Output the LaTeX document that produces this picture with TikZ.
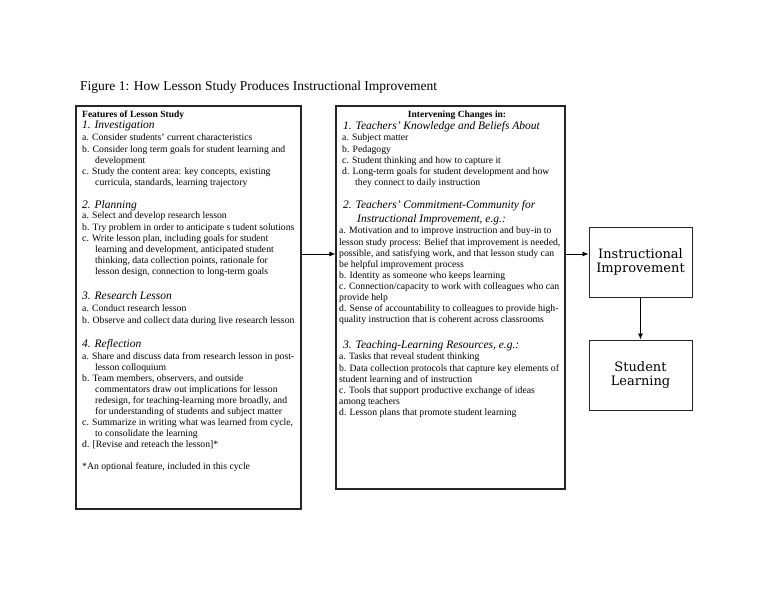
\documentclass[tikz,border=0pt]{standalone}
\usepackage{fontspec}
\setmainfont{Liberation Serif}
\newfontfamily\boxfont{DejaVu Serif}
\usetikzlibrary{arrows.meta}
\tikzset{
  box/.style={draw=black!85, line width=1.2pt, inner sep=0pt},
  sbox/.style={draw=black!85, line width=1pt, inner sep=0pt, align=center, font=\boxfont\fontsize{13}{13.5}\selectfont},
  txt/.style={anchor=north west, inner sep=0pt, align=left, font=\fontsize{9.7}{11.1}\selectfont},
  hd/.style={anchor=north west, inner sep=0pt, align=left, font=\fontsize{11.5}{14}\selectfont\itshape},
  bhd/.style={inner sep=0pt, font=\fontsize{9.5}{11}\selectfont\bfseries},
  arr/.style={draw=black, line width=0.8pt, -{Latex[length=6pt,width=5pt]}}
}
\newcommand{\ind}{\hspace*{13pt}}
\begin{document}
\begin{tikzpicture}[x=1pt,y=-1pt]
\useasboundingbox (0,0) rectangle (768,594);
% title
\node[anchor=base west, inner sep=0pt, font=\fontsize{13.5}{15}\selectfont] (title) at (80,90) {Figure 1: How Lesson Study Produces Instructional Improvement};
% boxes
\node[box, minimum width=225pt, minimum height=403pt] (features) at (188.5,307.5) {};
\node[box, minimum width=229pt, minimum height=383pt] (changes) at (450.5,297.5) {};
\node[sbox, minimum width=103pt, minimum height=70pt] (instr) at (640.5,262) {Instructional\\Improvement};
\node[sbox, minimum width=103pt, minimum height=70pt] (learn) at (640.5,375) {Student\\Learning};
% connectors
\coordinate (a1) at (0,254);
\draw[arr] (features.east |- a1) -- (changes.west |- a1);
\draw[arr] (changes.east |- a1) -- (instr.west |- a1);
\draw[arr] (instr.south) -- (learn.north);
% left box text
\node[bhd, anchor=base west] (fh) at (82,117) {Features of Lesson Study};
\node[hd] (lh1) at (82,121) {1. Investigation};
\node[txt] (l1) at (82,134) {a. Consider students' current characteristics\\
b. Consider long term goals for student learning and\\
\ind development\\
c. Study the content area: key concepts, existing\\
\ind curricula, standards, learning trajectory};
\node[hd] (lh2) at (82,200) {2. Planning};
\node[txt] (l2) at (82,212) {a. Select and develop research lesson\\
b. Try problem in order to anticipate s tudent solutions\\
c. Write lesson plan, including goals for student\\
\ind learning and development, anticipated student\\
\ind thinking, data collection points, rationale for\\
\ind lesson design, connection to long-term goals};
\node[hd] (lh3) at (82,291) {3. Research Lesson};
\node[txt] (l3) at (82,305) {a. Conduct research lesson\\
b. Observe and collect data during live research lesson};
\node[hd] (lh4) at (82,339) {4. Reflection};
\node[txt] (l4) at (82,352) {a. Share and discuss data from research lesson in post-\\
\ind lesson colloquium\\
b. Team members, observers, and outside\\
\ind commentators draw out implications for lesson\\
\ind redesign, for teaching-learning more broadly, and\\
\ind for understanding of students and subject matter\\
c. Summarize in writing what was learned from cycle,\\
\ind to consolidate the learning\\
d. [Revise and reteach the lesson]*};
\node[txt] (fn) at (82,462) {*An optional feature, included in this cycle};
% middle box text
\node[bhd, anchor=base] (mh) at (457,117) {Intervening Changes in:};
\node[hd] (mh1) at (343,121) {1. Teachers' Knowledge and Beliefs About};
\node[txt] (m1) at (342,134) {a. Subject matter\\
b. Pedagogy\\
c. Student thinking and how to capture it\\
d. Long-term goals for student development and how\\
\ind they connect to daily instruction};
\node[hd] (mh2) at (343,200) {2. Teachers' Commitment-Community for\\
\hspace*{14pt}Instructional Improvement, e.g.:};
\node[txt] (m2) at (339,227) {a. Motivation and to improve instruction and buy-in to\\
lesson study process: Belief that improvement is needed,\\
possible, and satisfying work, and that lesson study can\\
be helpful improvement process\\
b. Identity as someone who keeps learning\\
c. Connection/capacity to work with colleagues who can\\
provide help\\
d. Sense of accountability to colleagues to provide high-\\
quality instruction that is coherent across classrooms};
\node[hd] (mh3) at (343,340) {3. Teaching-Learning Resources, e.g.:};
\node[txt] (m3) at (339,353) {a. Tasks that reveal student thinking\\
b. Data collection protocols that capture key elements of\\
student learning and of instruction\\
c. Tools that support productive exchange of ideas\\
among teachers\\
d. Lesson plans that promote student learning};
\end{tikzpicture}
\end{document}
